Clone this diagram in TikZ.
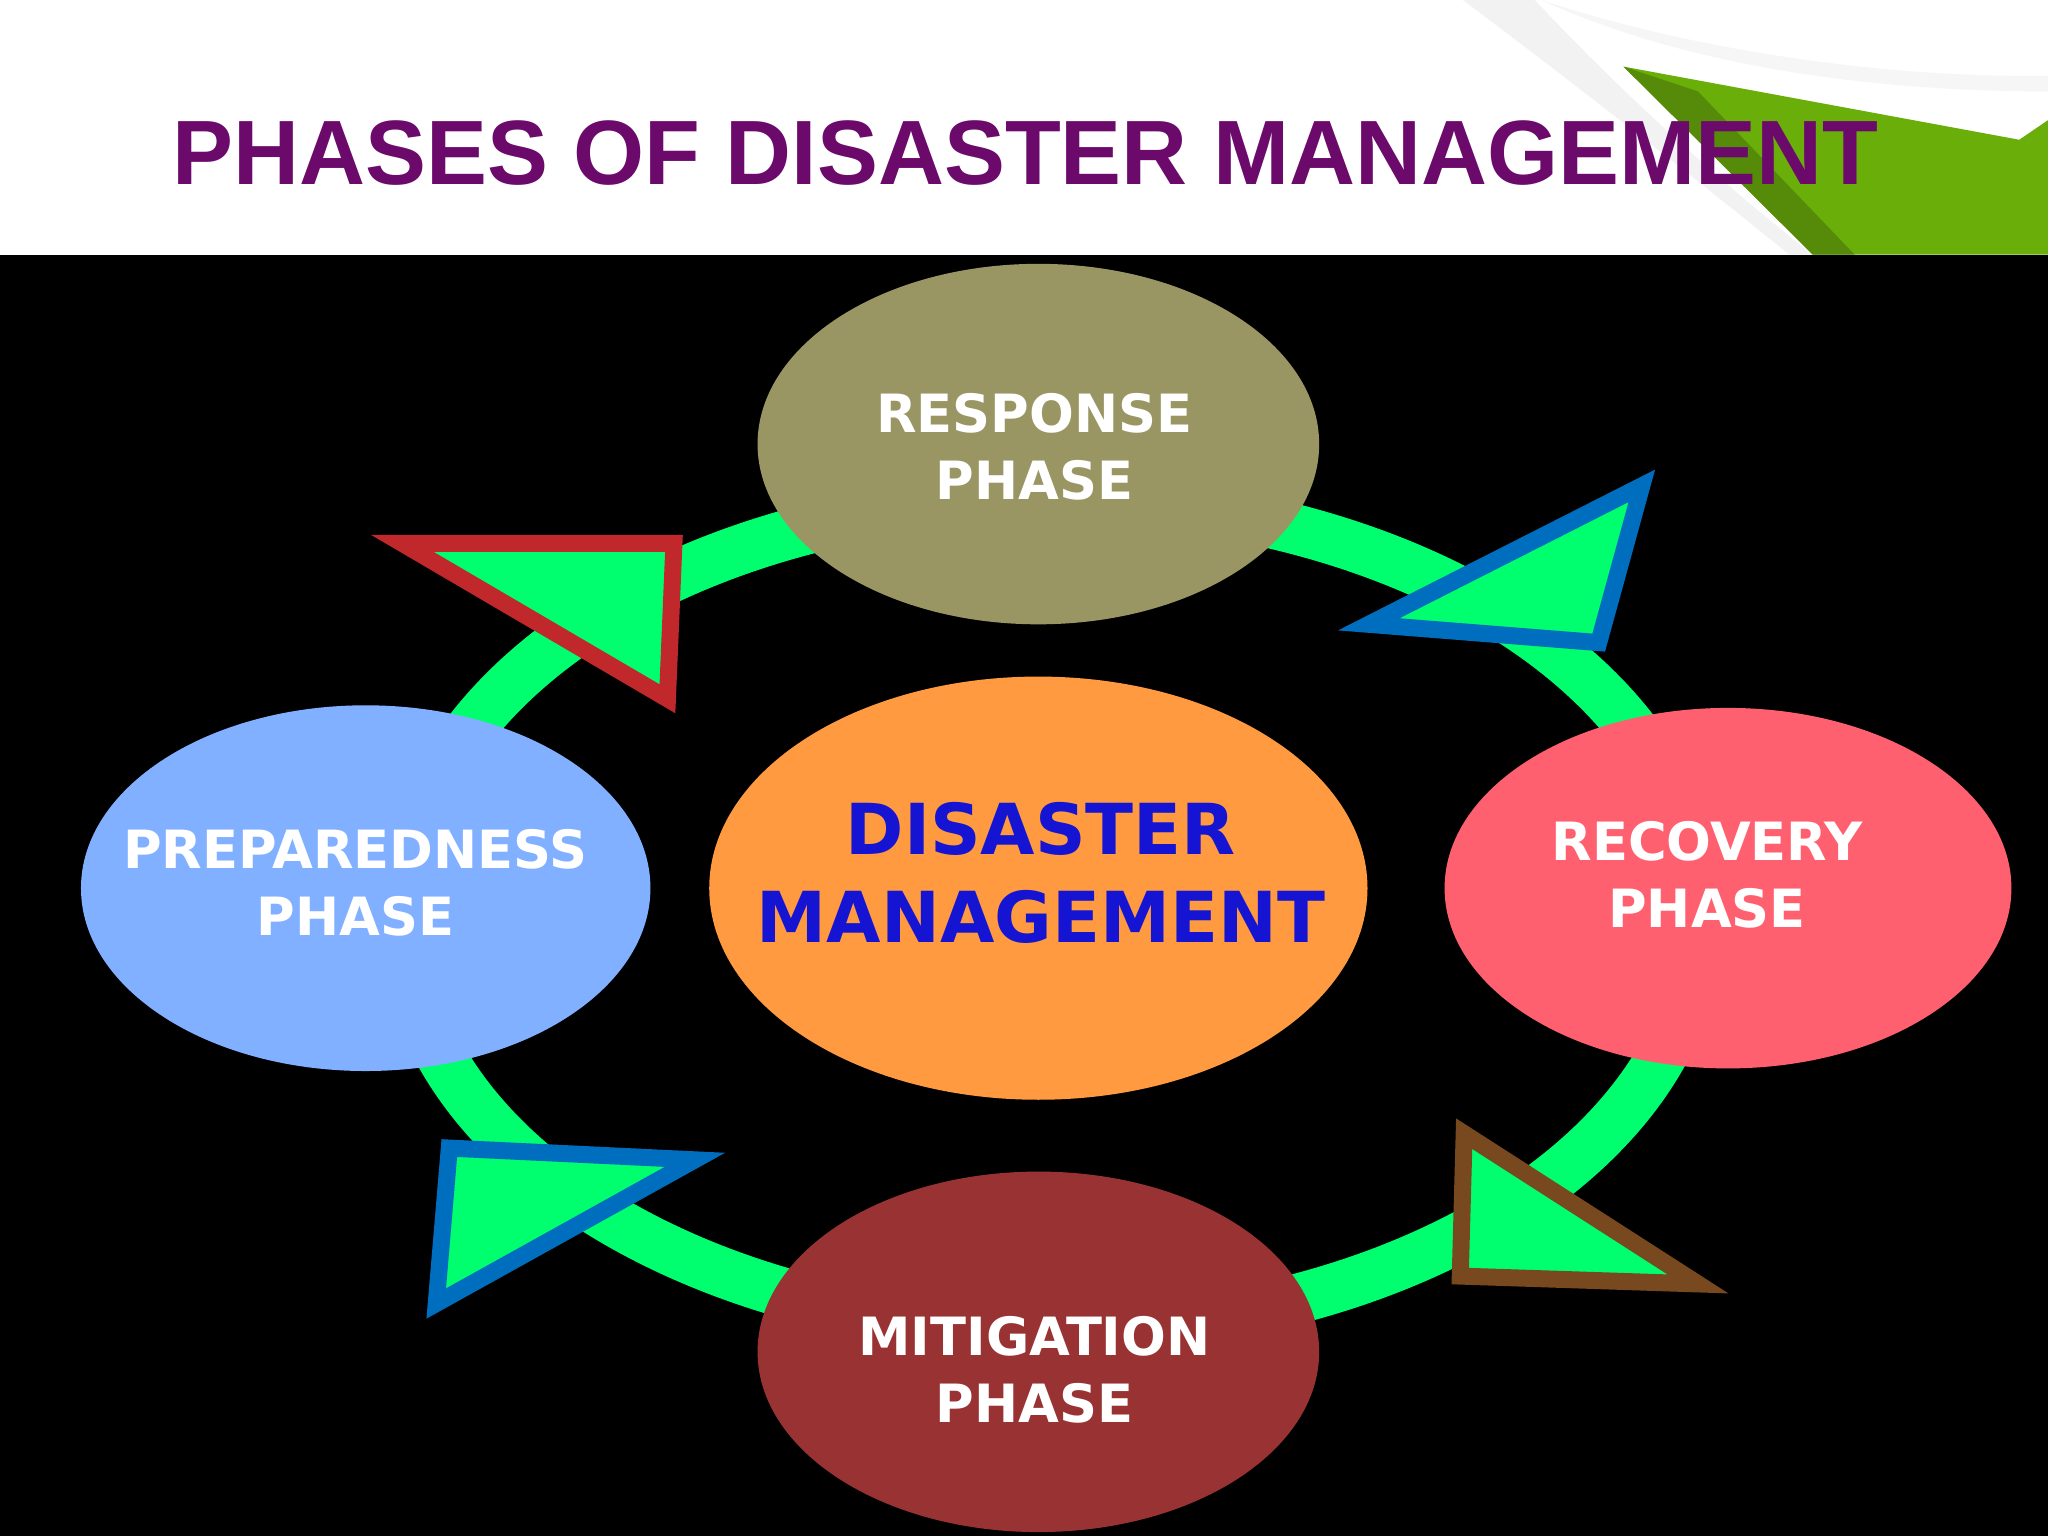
\documentclass[tikz,border=0pt]{standalone}
\usepackage{fontspec}
\setmainfont{Liberation Sans}
\newfontfamily\dejab{DejaVu Sans}
\begin{document}
\begin{tikzpicture}[x=0.013061cm,y=-0.013061cm,
  lbl/.style={font=\dejab\bfseries\fontsize{15}{19}\selectfont,text=white,align=center},
  tri/.style={line width=0.17cm,fill=ringgreen,line join=miter}]
\definecolor{ringgreen}{HTML}{00FF6E}
\definecolor{titlepurple}{HTML}{6B0A6B}
\definecolor{curlgreen}{HTML}{6AAE0A}
\useasboundingbox (0,0) rectangle (1568,1176);
\fill[white] (0,0) rectangle (1568,195);
\fill[black] (0,195) rectangle (1568,1176);
% page curl
\fill[gray!10] (1120,0) -- (1175,0) .. controls (1250,80) and (1330,150) .. (1388,195) -- (1370,195) .. controls (1290,130) and (1200,60) .. (1120,0) -- cycle;
\fill[gray!7] (1180,0) .. controls (1300,40) and (1450,60) .. (1568,58) -- (1568,70) .. controls (1450,70) and (1300,55) .. (1180,0) -- cycle;
\fill[curlgreen] (1243,51) -- (1546,107) -- (1568,92) -- (1568,195) -- (1388,195) -- cycle;
\fill[curlgreen!80!black] (1243,51) -- (1300,70) -- (1420,195) -- (1388,195) -- cycle;
\node[font=\bfseries\fontsize{26}{31}\selectfont,text=titlepurple] (title) at (785,117) {PHASES OF DISASTER MANAGEMENT};
% ring
\draw[ringgreen,line width=0.5cm] (805,700) ellipse [x radius=497,y radius=318];
% triangles
\draw[tri,draw={rgb,255:red,192;green,40;blue,44}] (308,416) -- (516,416) -- (511,535) -- cycle;
\draw[tri,draw={rgb,255:red,0;green,110;blue,190}] (1048,478) -- (1257,372) -- (1224,492) -- cycle;
\draw[tri,draw={rgb,255:red,0;green,110;blue,190}] (344,879) -- (532,888) -- (334,998) -- cycle;
\draw[tri,draw={rgb,255:red,120;green,72;blue,30}] (1121,868) -- (1300,983) -- (1118,977) -- cycle;
% ellipses
\fill[fill={rgb,255:red,154;green,150;blue,100}] (795,340) ellipse [x radius=215,y radius=138];
\fill[fill={rgb,255:red,128;green,176;blue,255}] (280,680) ellipse [x radius=218,y radius=140];
\fill[fill={rgb,255:red,255;green,154;blue,64}] (795,680) ellipse [x radius=252,y radius=162];
\fill[fill={rgb,255:red,255;green,96;blue,112}] (1323,680) ellipse [x radius=217,y radius=138];
\fill[fill={rgb,255:red,153;green,51;blue,51}] (795,1035) ellipse [x radius=215,y radius=138];
\node[lbl] (resp) at (792,342) {RESPONSE\\PHASE};
\node[lbl] (prep) at (272,676) {PREPAREDNESS\\PHASE};
\node[lbl] (reco) at (1307,670) {RECOVERY\\PHASE};
\node[lbl] (miti) at (792,1049) {MITIGATION\\PHASE};
\node[lbl,text={rgb,255:red,20;green,20;blue,210},font=\dejab\bfseries\fontsize{20}{25}\selectfont] (dm) at (797,668) {DISASTER\\MANAGEMENT};
\end{tikzpicture}
\end{document}
